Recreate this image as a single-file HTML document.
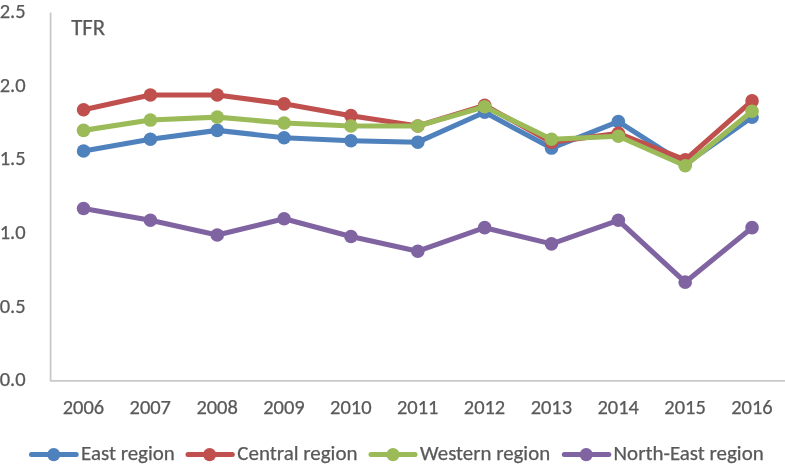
<!DOCTYPE html>
<html><head><meta charset="utf-8"><title>TFR by region</title>
<style>
html,body{margin:0;padding:0;background:#fff;}
body{width:785px;height:466px;overflow:hidden;}
svg{display:block;}
text{font-family:"Carlito","Liberation Sans",sans-serif;fill:#595959;stroke:#595959;stroke-width:0.25px;}
.ax{font-size:20px;}
.lg{font-size:19.5px;}
</style></head><body>
<svg width="785" height="466" viewBox="0 0 785 466">
<rect width="785" height="466" fill="#fff"/>
<path d="M50.6 13.2 V380.9 H786" fill="none" stroke="#C9C9C9" stroke-width="1.8" stroke-linejoin="round" stroke-linecap="round"/>
<text class="ax" x="25.6" y="386.2" text-anchor="end" textLength="25.93" lengthAdjust="spacingAndGlyphs">0.0</text>
<text class="ax" x="25.6" y="312.5" text-anchor="end" textLength="25.93" lengthAdjust="spacingAndGlyphs">0.5</text>
<text class="ax" x="25.6" y="238.8" text-anchor="end" textLength="25.93" lengthAdjust="spacingAndGlyphs">1.0</text>
<text class="ax" x="25.6" y="165.2" text-anchor="end" textLength="25.93" lengthAdjust="spacingAndGlyphs">1.5</text>
<text class="ax" x="25.6" y="91.5" text-anchor="end" textLength="25.93" lengthAdjust="spacingAndGlyphs">2.0</text>
<text class="ax" x="25.6" y="17.8" text-anchor="end" textLength="25.93" lengthAdjust="spacingAndGlyphs">2.5</text>
<text x="71.2" y="35.1" style="font-size:22px" textLength="34.0" lengthAdjust="spacingAndGlyphs">TFR</text>
<text class="ax" x="83.40" y="413.6" text-anchor="middle" textLength="41.45" lengthAdjust="spacingAndGlyphs">2006</text>
<text class="ax" x="150.25" y="413.6" text-anchor="middle" textLength="41.45" lengthAdjust="spacingAndGlyphs">2007</text>
<text class="ax" x="217.10" y="413.6" text-anchor="middle" textLength="41.45" lengthAdjust="spacingAndGlyphs">2008</text>
<text class="ax" x="283.95" y="413.6" text-anchor="middle" textLength="41.45" lengthAdjust="spacingAndGlyphs">2009</text>
<text class="ax" x="350.80" y="413.6" text-anchor="middle" textLength="41.45" lengthAdjust="spacingAndGlyphs">2010</text>
<text class="ax" x="417.65" y="413.6" text-anchor="middle" textLength="41.45" lengthAdjust="spacingAndGlyphs">2011</text>
<text class="ax" x="484.50" y="413.6" text-anchor="middle" textLength="41.45" lengthAdjust="spacingAndGlyphs">2012</text>
<text class="ax" x="551.35" y="413.6" text-anchor="middle" textLength="41.45" lengthAdjust="spacingAndGlyphs">2013</text>
<text class="ax" x="618.20" y="413.6" text-anchor="middle" textLength="41.45" lengthAdjust="spacingAndGlyphs">2014</text>
<text class="ax" x="685.05" y="413.6" text-anchor="middle" textLength="41.45" lengthAdjust="spacingAndGlyphs">2015</text>
<text class="ax" x="751.90" y="413.6" text-anchor="middle" textLength="41.45" lengthAdjust="spacingAndGlyphs">2016</text>
<g><polyline points="83.55,151.02 150.40,139.23 217.25,130.39 284.10,137.76 350.95,140.70 417.80,142.18 484.65,112.26 551.50,148.07 618.35,121.55 685.20,164.28 752.05,117.13" fill="none" stroke="#4F81BD" stroke-width="5.1" stroke-linejoin="round" stroke-linecap="round"/>
<circle cx="83.55" cy="151.02" r="6.8" fill="#4F81BD"/>
<circle cx="150.40" cy="139.23" r="6.8" fill="#4F81BD"/>
<circle cx="217.25" cy="130.39" r="6.8" fill="#4F81BD"/>
<circle cx="284.10" cy="137.76" r="6.8" fill="#4F81BD"/>
<circle cx="350.95" cy="140.70" r="6.8" fill="#4F81BD"/>
<circle cx="417.80" cy="142.18" r="6.8" fill="#4F81BD"/>
<circle cx="484.65" cy="112.26" r="6.8" fill="#4F81BD"/>
<circle cx="551.50" cy="148.07" r="6.8" fill="#4F81BD"/>
<circle cx="618.35" cy="121.55" r="6.8" fill="#4F81BD"/>
<circle cx="685.20" cy="164.28" r="6.8" fill="#4F81BD"/>
<circle cx="752.05" cy="117.13" r="6.8" fill="#4F81BD"/>
</g>
<g><polyline points="83.55,109.76 150.40,95.02 217.25,95.02 284.10,103.86 350.95,115.65 417.80,125.97 484.65,105.34 551.50,142.18 618.35,133.34 685.20,159.86 752.05,100.92" fill="none" stroke="#C0504D" stroke-width="5.1" stroke-linejoin="round" stroke-linecap="round"/>
<circle cx="83.55" cy="109.76" r="6.8" fill="#C0504D"/>
<circle cx="150.40" cy="95.02" r="6.8" fill="#C0504D"/>
<circle cx="217.25" cy="95.02" r="6.8" fill="#C0504D"/>
<circle cx="284.10" cy="103.86" r="6.8" fill="#C0504D"/>
<circle cx="350.95" cy="115.65" r="6.8" fill="#C0504D"/>
<circle cx="417.80" cy="125.97" r="6.8" fill="#C0504D"/>
<circle cx="484.65" cy="105.34" r="6.8" fill="#C0504D"/>
<circle cx="551.50" cy="142.18" r="6.8" fill="#C0504D"/>
<circle cx="618.35" cy="133.34" r="6.8" fill="#C0504D"/>
<circle cx="685.20" cy="159.86" r="6.8" fill="#C0504D"/>
<circle cx="752.05" cy="100.92" r="6.8" fill="#C0504D"/>
</g>
<g><polyline points="83.55,130.39 150.40,120.07 217.25,117.13 284.10,123.02 350.95,125.97 417.80,125.97 484.65,106.81 551.50,139.23 618.35,136.28 685.20,165.75 752.05,111.23" fill="none" stroke="#9BBB59" stroke-width="5.1" stroke-linejoin="round" stroke-linecap="round"/>
<circle cx="83.55" cy="130.39" r="6.8" fill="#9BBB59"/>
<circle cx="150.40" cy="120.07" r="6.8" fill="#9BBB59"/>
<circle cx="217.25" cy="117.13" r="6.8" fill="#9BBB59"/>
<circle cx="284.10" cy="123.02" r="6.8" fill="#9BBB59"/>
<circle cx="350.95" cy="125.97" r="6.8" fill="#9BBB59"/>
<circle cx="417.80" cy="125.97" r="6.8" fill="#9BBB59"/>
<circle cx="484.65" cy="106.81" r="6.8" fill="#9BBB59"/>
<circle cx="551.50" cy="139.23" r="6.8" fill="#9BBB59"/>
<circle cx="618.35" cy="136.28" r="6.8" fill="#9BBB59"/>
<circle cx="685.20" cy="165.75" r="6.8" fill="#9BBB59"/>
<circle cx="752.05" cy="111.23" r="6.8" fill="#9BBB59"/>
</g>
<g><polyline points="83.55,208.49 150.40,220.28 217.25,235.01 284.10,218.80 350.95,236.49 417.80,251.22 484.65,227.65 551.50,243.86 618.35,220.28 685.20,282.17 752.05,227.65" fill="none" stroke="#8064A2" stroke-width="5.1" stroke-linejoin="round" stroke-linecap="round"/>
<circle cx="83.55" cy="208.49" r="6.8" fill="#8064A2"/>
<circle cx="150.40" cy="220.28" r="6.8" fill="#8064A2"/>
<circle cx="217.25" cy="235.01" r="6.8" fill="#8064A2"/>
<circle cx="284.10" cy="218.80" r="6.8" fill="#8064A2"/>
<circle cx="350.95" cy="236.49" r="6.8" fill="#8064A2"/>
<circle cx="417.80" cy="251.22" r="6.8" fill="#8064A2"/>
<circle cx="484.65" cy="227.65" r="6.8" fill="#8064A2"/>
<circle cx="551.50" cy="243.86" r="6.8" fill="#8064A2"/>
<circle cx="618.35" cy="220.28" r="6.8" fill="#8064A2"/>
<circle cx="685.20" cy="282.17" r="6.8" fill="#8064A2"/>
<circle cx="752.05" cy="227.65" r="6.8" fill="#8064A2"/>
</g>
<line x1="31.5" y1="454.6" x2="76.2" y2="454.6" stroke="#4F81BD" stroke-width="5" stroke-linecap="round"/>
<circle cx="53.7" cy="454.6" r="6.6" fill="#4F81BD"/>
<text class="lg" x="81.0" y="459.7" textLength="93.82" lengthAdjust="spacingAndGlyphs">East region</text>
<line x1="188" y1="454.6" x2="232.3" y2="454.6" stroke="#C0504D" stroke-width="5" stroke-linecap="round"/>
<circle cx="209.6" cy="454.6" r="6.6" fill="#C0504D"/>
<text class="lg" x="237.3" y="459.7" textLength="120.21" lengthAdjust="spacingAndGlyphs">Central region</text>
<line x1="371" y1="454.6" x2="415" y2="454.6" stroke="#9BBB59" stroke-width="5" stroke-linecap="round"/>
<circle cx="393" cy="454.6" r="6.6" fill="#9BBB59"/>
<text class="lg" x="420.0" y="459.7" textLength="130.10" lengthAdjust="spacingAndGlyphs">Western region</text>
<line x1="564.3" y1="454.6" x2="608.8" y2="454.6" stroke="#8064A2" stroke-width="5" stroke-linecap="round"/>
<circle cx="586.2" cy="454.6" r="6.6" fill="#8064A2"/>
<text class="lg" x="613.6" y="459.7" textLength="150.13" lengthAdjust="spacingAndGlyphs">North-East region</text>
</svg>
</body></html>
